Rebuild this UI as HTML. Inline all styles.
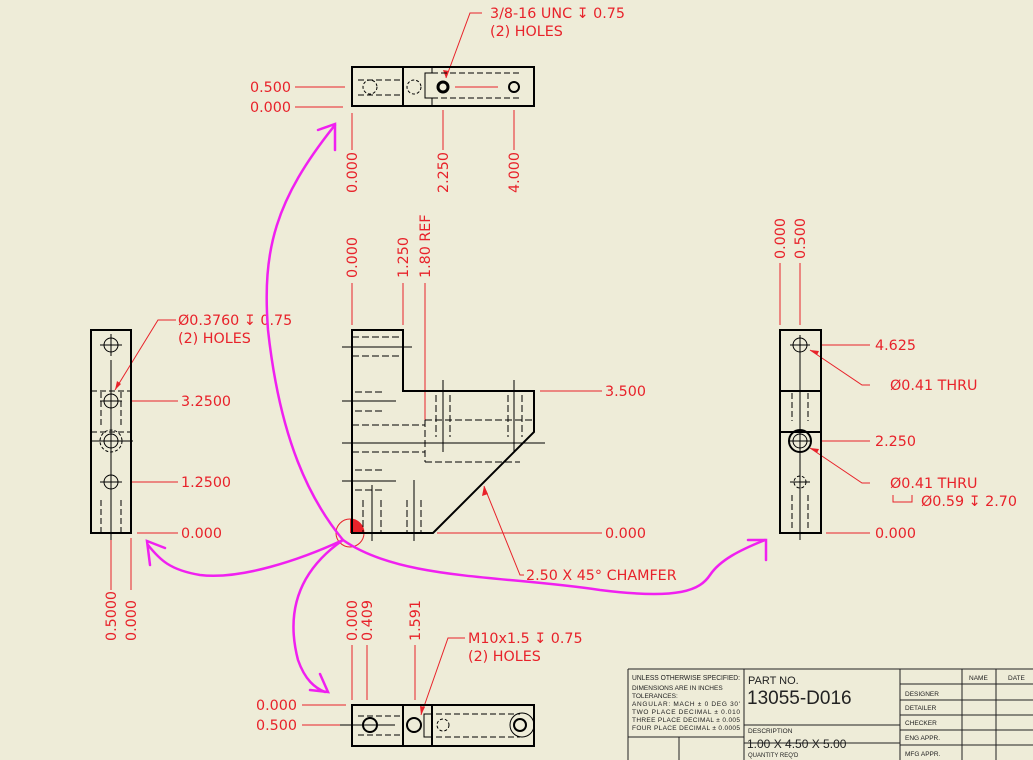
<!DOCTYPE html>
<html><head><meta charset="utf-8"><style>
html,body{margin:0;padding:0;background:#EEECD8;}
svg{display:block}
.r{fill:#E8222A;font-family:"DejaVu Sans","Liberation Sans",sans-serif;font-size:14.3px}
.t{font-family:"Liberation Sans",sans-serif;fill:#222}
</style></head><body>
<svg width="1033" height="760" viewBox="0 0 1033 760" xmlns="http://www.w3.org/2000/svg">
<rect width="1033" height="760" fill="#EEECD8"/>
<g stroke="#E8222A" stroke-width="1" fill="none">
 <path d="M295 87H345 M295 107H343 M352 113V150 M443 110V150 M514 110V150"/>
 <path d="M482 13H470L446 78"/>
 <path d="M352 283V325 M403 283V325 M425 283V422 M540 391H602 M437 533H602 M484 486L520 575H524"/>
 <circle cx="350" cy="533" r="14"/>
 <path d="M130 401H178 M130 482H178 M137 533H178 M111 538V590 M131 538V590 M176 320H158L115 390"/>
 <path d="M822 345H870 M822 441H870 M826 533H870 M780 263V325 M800 263V325 M870 385H862L810 350 M870 483H862L810 448"/>
 <path d="M302 705H346 M302 725H346 M352 645V700 M367 645V700 M415 645V700 M465 638H448L421 715"/>
</g>
<g fill="#E8222A">
 <path d="M446 78L443 70L449 71Z"/>
 <path d="M484 486L482 496L488 494Z"/>
 <path d="M115 390L117 381L121 384Z"/>
 <path d="M810 350L819 351L817 355Z"/>
 <path d="M810 448L819 449L817 453Z"/>
 <path d="M421 715L420 706L425 707Z"/>
 <path d="M350 519A14 14 0 0 1 364 533H350Z"/>
</g>
<g class="r">
 <text x="490" y="18">3/8-16 UNC ↧ 0.75</text>
 <text x="490" y="36">(2) HOLES</text>
 <text x="250" y="92">0.500</text>
 <text x="250" y="112">0.000</text>
 <text transform="translate(357,193) rotate(-90)">0.000</text>
 <text transform="translate(448,193) rotate(-90)">2.250</text>
 <text transform="translate(519,193) rotate(-90)">4.000</text>
 <text transform="translate(357,278) rotate(-90)">0.000</text>
 <text transform="translate(408,278) rotate(-90)">1.250</text>
 <text transform="translate(430,278) rotate(-90)">1.80 REF</text>
 <text x="605" y="396">3.500</text>
 <text x="605" y="538">0.000</text>
 <text x="526" y="580">2.50 X 45° CHAMFER</text>
 <text x="178" y="325">Ø0.3760 ↧ 0.75</text>
 <text x="178" y="343">(2) HOLES</text>
 <text x="181" y="406">3.2500</text>
 <text x="181" y="487">1.2500</text>
 <text x="181" y="538">0.000</text>
 <text transform="translate(116,641) rotate(-90)">0.5000</text>
 <text transform="translate(136,641) rotate(-90)">0.000</text>
 <text transform="translate(785,259) rotate(-90)">0.000</text>
 <text transform="translate(805,259) rotate(-90)">0.500</text>
 <text x="875" y="350">4.625</text>
 <text x="890" y="390">Ø0.41 THRU</text>
 <text x="875" y="446">2.250</text>
 <text x="890" y="488">Ø0.41 THRU</text>
 <text x="921" y="506">Ø0.59 ↧ 2.70</text>
 <text x="875" y="538">0.000</text>
 <text transform="translate(357,641) rotate(-90)">0.000</text>
 <text transform="translate(372,641) rotate(-90)">0.409</text>
 <text transform="translate(420,641) rotate(-90)">1.591</text>
 <text x="468" y="643">M10x1.5 ↧ 0.75</text>
 <text x="468" y="661">(2) HOLES</text>
 <text x="256" y="710">0.000</text>
 <text x="256" y="730">0.500</text>
</g>
<path d="M893 495V502H912V495" stroke="#E8222A" fill="none"/>
<g stroke="#000" fill="none" stroke-width="2">
 <rect x="352" y="67" width="182" height="39"/>
 <path d="M403 67V106"/>
 <path d="M352 330H403V391H534V432L433 533H352Z"/>
 <rect x="91" y="330" width="40" height="203"/>
 <rect x="780" y="330" width="41" height="203"/>
 <path d="M780 391H821 M780 432H821"/>
 <rect x="352" y="705" width="182" height="41"/>
 <path d="M403 705V746 M432 705V746"/>
</g>
<g stroke="#000" fill="none" stroke-width="1">
 <path d="M432 67V73H425V98H432V106" />
 <path d="M432 73H520 M432 98H520 M358 80H400 M358 95H400" stroke-dasharray="6 3"/>
 <circle cx="370" cy="87" r="7" stroke-dasharray="3 2"/>
 <circle cx="414" cy="87" r="7" stroke-dasharray="3 2"/>
 <circle cx="443" cy="87" r="5" stroke-width="3"/>
 <circle cx="514" cy="87" r="5" stroke-width="2"/>
 <path d="M455 87H498" stroke="#E8222A"/>
 <g stroke-dasharray="7 3">
  <path d="M352 337H403 M352 356H403 M355 392H382 M355 411H382 M355 470H382 M355 490H382"/>
  <path d="M352 425H425 M352 452H425 M425 420H534 M425 462H520 M425 420V462"/>
  <path d="M436 395V437 M450 395V437 M508 395V437 M522 395V437"/>
  <path d="M363 500V533 M381 500V533 M407 500V533 M421 500V533"/>
 </g>
 <path d="M342 347H412 M342 401H396 M342 443H545 M342 481H396 M443 380V452 M514 380V452 M372 485V541 M414 480V541"/>
 <circle cx="111" cy="345" r="7"/><circle cx="111" cy="401" r="7"/>
 <circle cx="111" cy="441" r="7"/><circle cx="111" cy="441" r="11" stroke-dasharray="3 2"/>
 <circle cx="111" cy="482" r="7"/>
 <path d="M100 345H122 M111 334V356 M100 401H122 M111 360V540 M90 441H133 M100 482H122"/>
 <path d="M91 391H131 M91 432H131 M101 392V425 M121 392V425 M101 500V533 M121 500V533" stroke-dasharray="6 3"/>
 <circle cx="800" cy="345" r="7"/><circle cx="800" cy="441" r="7"/><circle cx="800" cy="441" r="11" stroke-width="2"/>
 <circle cx="800" cy="482" r="6" stroke-dasharray="3 2"/>
 <path d="M790 345H810 M800 335V540 M788 441H812 M790 482H810"/>
 <path d="M792 393V421 M808 393V421 M792 495V530 M808 495V530" stroke-dasharray="6 3"/>
 <circle cx="370" cy="725" r="7" stroke-width="2"/><circle cx="414" cy="725" r="7" stroke-width="2"/>
 <circle cx="443" cy="725" r="6" stroke-dasharray="3 2"/>
 <circle cx="520" cy="725" r="6" stroke-width="2"/><circle cx="522" cy="725" r="12"/>
 <path d="M432 714H424V737H432 M340 725H395"/>
 <path d="M358 716H400 M358 735H400 M436 714H520 M436 737H520" stroke-dasharray="6 3"/>
</g>
<g stroke="#F020F0" stroke-width="2.5" fill="none" stroke-linecap="round">
 <path d="M343 540C310 500 280 440 268 330 C262 250 275 200 335 125"/>
 <path d="M318 130L335 124L335 150"/>
 <path d="M343 540C300 560 240 580 200 575 C170 570 160 560 148 545"/>
 <path d="M150 565L147 541L165 548"/>
 <path d="M343 540C300 570 285 610 298 660 C305 680 315 688 325 692"/>
 <path d="M310 690L328 692L320 674"/>
 <path d="M343 540C400 580 500 575 600 590 C680 600 700 590 710 575 C720 560 740 550 765 540"/>
 <path d="M748 540L766 540L766 560"/>
</g>
<g stroke="#222" stroke-width="1" fill="none">
 <path d="M628 669H1033 M628 669V760 M744 669V760 M900 669V760 M962 669V760 M996 669V760"/>
 <path d="M628 737H744 M679 737V760 M744 725H900 M744 743H900"/>
 <path d="M900 684H1033 M900 700H1033 M900 715H1033 M900 730H1033 M900 745H1033"/>
</g>
<g class="t">
 <text x="632" y="680" font-size="7" textLength="108" lengthAdjust="spacingAndGlyphs">UNLESS OTHERWISE SPECIFIED:</text>
 <text x="632" y="690" font-size="6.5">DIMENSIONS ARE IN INCHES</text>
 <text x="632" y="698" font-size="6.5">TOLERANCES:</text>
 <text x="632" y="706" font-size="6.5" textLength="108">ANGULAR: MACH    ± 0 DEG 30'</text>
 <text x="632" y="714" font-size="6.5" textLength="108">TWO PLACE DECIMAL    ± 0.010</text>
 <text x="632" y="722" font-size="6.5" textLength="108">THREE PLACE DECIMAL  ± 0.005</text>
 <text x="632" y="730" font-size="6.5" textLength="108">FOUR PLACE DECIMAL  ± 0.0005</text>
 <text x="748" y="684" font-size="11">PART NO.</text>
 <text x="747" y="704" font-size="19">13055-D016</text>
 <text x="748" y="733" font-size="6.5">DESCRIPTION</text>
 <text x="747" y="748" font-size="12">1.00 X 4.50 X 5.00</text>
 <text x="748" y="757" font-size="6">QUANTITY REQ'D</text>
 <text x="969" y="680" font-size="6.5">NAME</text>
 <text x="1008" y="680" font-size="6.5">DATE</text>
 <text x="905" y="696" font-size="6.5">DESIGNER</text>
 <text x="905" y="710" font-size="6.5">DETAILER</text>
 <text x="905" y="725" font-size="6.5">CHECKER</text>
 <text x="905" y="740" font-size="6.5">ENG APPR.</text>
 <text x="905" y="756" font-size="6.5">MFG APPR.</text>
</g>
</svg>
</body></html>
